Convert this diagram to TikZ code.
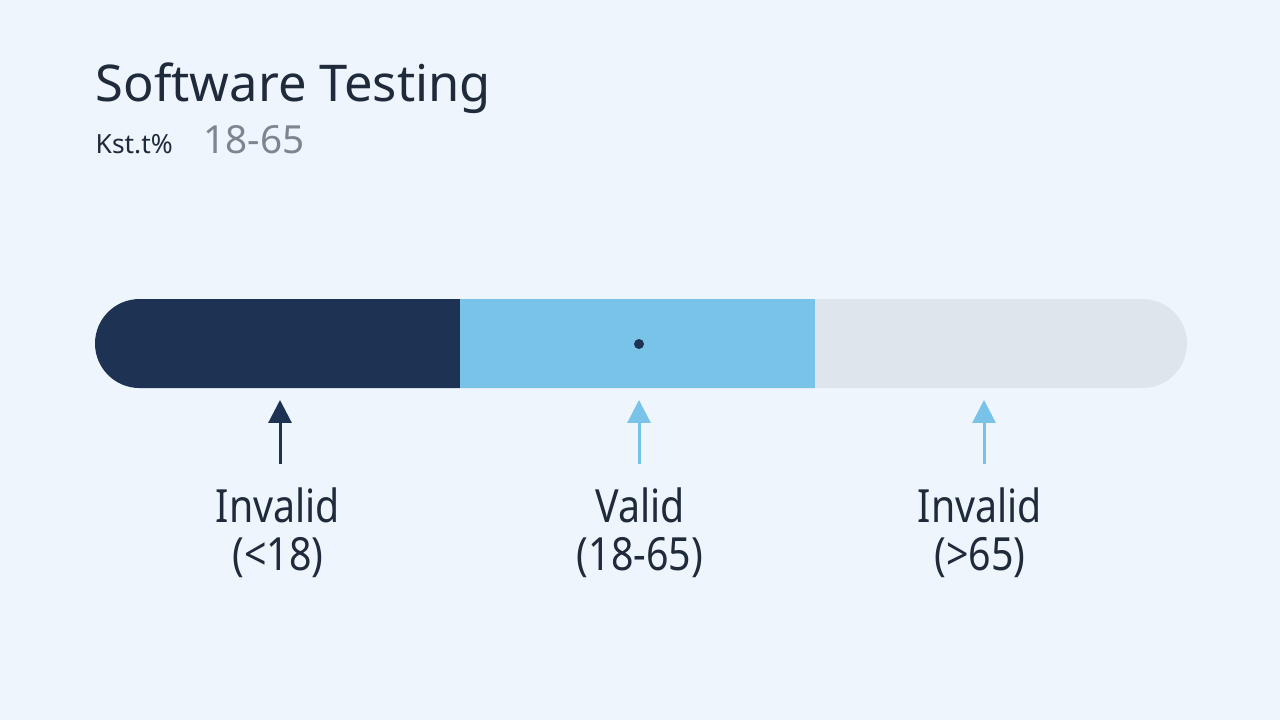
\documentclass[tikz,border=0pt]{standalone}
\usepackage{fontspec}
\setmainfont{Noto Sans}
\usetikzlibrary{arrows.meta}
\definecolor{bg}{HTML}{EFF5FC}
\definecolor{navy}{HTML}{1E3354}
\definecolor{sky}{HTML}{7AC3E8}
\definecolor{lgray}{HTML}{DEE5EC}
\definecolor{txt}{HTML}{1F2A3A}
\definecolor{sub}{HTML}{7E858E}
\newcommand{\cond}[1]{\scalebox{0.86}[1]{#1}}
\tikzset{
  lbl/.style={font=\fontsize{13}{16}\selectfont, text=txt, anchor=base, inner sep=0pt},
  arr/.style={line width=0.85pt, -{Triangle[length=6.5pt,width=6.5pt]}},
}
\begin{document}
\begin{tikzpicture}[x=0.01cm,y=-0.01cm]
\useasboundingbox (0,0) rectangle (1280,720);
\fill[bg] (0,0) rectangle (1280,720);
% title
\node[anchor=base west, inner sep=0pt, text=txt, font=\fontsize{14.4}{18}\selectfont] (title) at (95,101) {Software Testing};
\node[anchor=base west, inner sep=0pt, text=txt, font=\fontsize{7.5}{10}\selectfont] (subA) at (95,153) {Kst.t\%};
\node[anchor=base west, inner sep=0pt, text=sub, font=\fontsize{11}{13}\selectfont] (subB) at (203,153) {18-65};
% bar
\begin{scope}
\clip[rounded corners=0.445cm] (95,299) rectangle (1187,388);
\fill[navy] (90,295) rectangle (460,392);
\fill[sky] (460,295) rectangle (815,392);
\fill[lgray] (815,295) rectangle (1192,392);
\end{scope}
\coordinate (s1) at (280,388);
\coordinate (s2) at (639,388);
\coordinate (s3) at (984,388);
\fill[navy] (639,344) circle (5);
% arrows
\coordinate (b1) at (280,464);
\coordinate (b2) at (639,464);
\coordinate (b3) at (984,464);
\draw[arr, navy] (b1) -- ([yshift=-3.4pt]s1);
\draw[arr, sky] (b2) -- ([yshift=-3.4pt]s2);
\draw[arr, sky] (b3) -- ([yshift=-3.4pt]s3);
% labels
\node[lbl] (l1a) at (278,522) {\cond{Invalid}};
\node[lbl] (l1b) at (278,570) {\cond{(<18)}};
\node[lbl] (l2a) at (640,522) {\cond{Valid}};
\node[lbl] (l2b) at (640,570) {\cond{(18-65)}};
\node[lbl] (l3a) at (980,522) {\cond{Invalid}};
\node[lbl] (l3b) at (980,570) {\cond{(>65)}};
\end{tikzpicture}
\end{document}
